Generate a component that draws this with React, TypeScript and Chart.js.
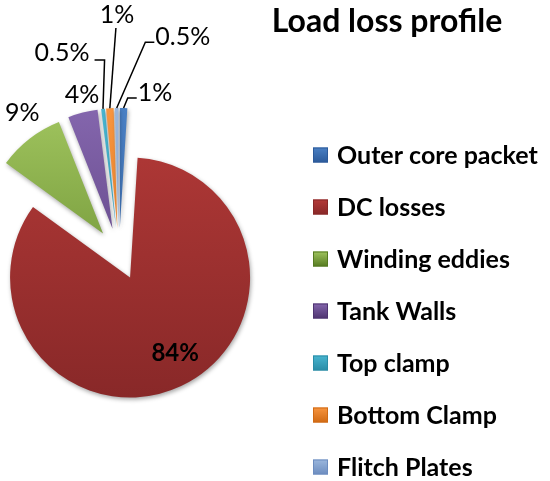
import React, { useEffect, useRef } from "react";
import { Chart, registerables } from "chart.js";

Chart.register(...registerables);

// ---- data ----
const categories = [
  "Outer core packet",
  "DC losses",
  "Winding eddies",
  "Tank Walls",
  "Top clamp",
  "Bottom Clamp",
  "Flitch Plates",
];
const lossShare = [1, 84, 9, 4, 0.5, 1, 0.5];
const chartTitle = "Load loss profile";

// ---- styles ----
const baseColors = ["#3D72B6", "#A93434", "#8CB04C", "#74559A", "#3AA5C1", "#EE8630", "#8AA8D2"];
const lightColors = ["#4A80C4", "#B43A38", "#A0C45E", "#8466AD", "#48B5D0", "#F8953F", "#9BB7DD"];
const darkColors = ["#2C5A9A", "#882828", "#557A20", "#4E3470", "#2A8CA6", "#D06A14", "#6C8CBF"];

// label placement: distance from pie centre, angle nudge from slice mid-angle (deg), leader style
const labelPlacement = [
  { dist: 165, nudge: 10.8, leader: "left" },
  { dist: 114, nudge: -4.3, leader: "none", inside: true },
  { dist: 171, nudge: 3.3, leader: "none" },
  { dist: 163, nudge: 1.3, leader: "none" },
  { dist: 209, nudge: -9.5, leader: "right" },
  { dist: 239, nudge: 3.1, leader: "below" },
  { dist: 226, nudge: 17.3, leader: "left" },
];

const FONT = "Lato, 'Liberation Sans', sans-serif";
const RADIUS = 120;
const EXPLODE = 26;

const piePlugin = {
  id: "explodedPie",
  afterDatasetUpdate(chart: any, args: any) {
    const meta = args.meta;
    meta.data.forEach((el: any) => {
      const mid = (el.startAngle + el.endAngle) / 2;
      el.x += Math.cos(mid) * EXPLODE;
      el.y += Math.sin(mid) * EXPLODE;
    });
  },
  beforeDatasetsDraw(chart: any) {
    const ctx = chart.ctx;
    ctx.save();
    ctx.shadowColor = "rgba(0,0,0,0.35)";
    ctx.shadowBlur = 4;
    ctx.shadowOffsetX = 1;
    ctx.shadowOffsetY = 2;
  },
  afterDatasetsDraw(chart: any) {
    const ctx = chart.ctx;
    ctx.restore();
    const area = chart.chartArea;
    const cx = (area.left + area.right) / 2;
    const cy = (area.top + area.bottom) / 2;
    const meta = chart.getDatasetMeta(0);
    const values = chart.data.datasets[0].data as number[];
    ctx.save();
    meta.data.forEach((el: any, i: number) => {
      const p: any = labelPlacement[i];
      const mid = (el.startAngle + el.endAngle) / 2;
      const a = mid + (p.nudge * Math.PI) / 180;
      const tx = cx + p.dist * Math.cos(a);
      const ty = cy + p.dist * Math.sin(a);
      const text = values[i] + "%";
      ctx.font = p.inside ? `bold 24px ${FONT}` : `25px ${FONT}`;
      ctx.fillStyle = "#000";
      ctx.textAlign = "center";
      ctx.textBaseline = "middle";
      ctx.fillText(text, tx, ty);
      if (p.leader !== "none") {
        const w = ctx.measureText(text).width;
        const ex = el.x + el.outerRadius * Math.cos(mid);
        const ey = el.y + el.outerRadius * Math.sin(mid);
        ctx.strokeStyle = "#000";
        ctx.lineWidth = 1.5;
        ctx.beginPath();
        ctx.moveTo(ex, ey);
        if (p.leader === "left") {
          const left = tx - w / 2;
          ctx.lineTo(left - 10, ty + 5);
          ctx.lineTo(left - 1, ty + 5);
        } else if (p.leader === "right") {
          const right = tx + w / 2;
          ctx.lineTo(right + 15, ty + 7);
          ctx.lineTo(right + 5, ty + 7);
        } else {
          ctx.lineTo(tx - 1, ty + 13);
        }
        ctx.stroke();
      }
    });
    ctx.restore();
  },
  afterDraw(chart: any) {
    const ctx = chart.ctx;
    const labels = chart.data.labels as string[];
    ctx.save();
    // title
    ctx.font = `bold 32px ${FONT}`;
    ctx.fillStyle = "#000";
    ctx.textAlign = "center";
    ctx.textBaseline = "middle";
    ctx.fillText(chartTitle, 387, 22);
    // legend
    const boxX = 313;
    const box = 15;
    ctx.font = `bold 25px ${FONT}`;
    ctx.textAlign = "left";
    labels.forEach((lab, i) => {
      const y = 155 + i * 52;
      const g = ctx.createLinearGradient(0, y - box / 2, 0, y + box / 2);
      g.addColorStop(0, lightColors[i]);
      g.addColorStop(1, darkColors[i]);
      ctx.fillStyle = g;
      ctx.fillRect(boxX, y - box / 2, box, box);
      ctx.strokeStyle = darkColors[i];
      ctx.lineWidth = 1;
      ctx.strokeRect(boxX + 0.5, y - box / 2 + 0.5, box - 1, box - 1);
      ctx.fillStyle = "#000";
      ctx.fillText(lab, 337, y + 1);
    });
    ctx.restore();
  },
};

export default function App() {
  const canvasRef = useRef<HTMLCanvasElement | null>(null);

  useEffect(() => {
    document.body.style.margin = "0";
    const canvas = canvasRef.current;
    if (!canvas) return;
    const chart = new Chart(canvas, {
      type: "pie",
      data: {
        labels: categories,
        datasets: [
          {
            data: lossShare,
            radius: RADIUS,
            borderWidth: 0,
            backgroundColor: (c: any) => {
              const i = c.dataIndex ?? 0;
              const area = c.chart.chartArea;
              if (!area) return baseColors[i];
              const cy = (area.top + area.bottom) / 2;
              const g = c.chart.ctx.createLinearGradient(0, cy - RADIUS - EXPLODE, 0, cy + RADIUS + EXPLODE);
              g.addColorStop(0, lightColors[i]);
              g.addColorStop(1, darkColors[i]);
              return g;
            },
          } as any,
        ],
      },
      options: {
        animation: false,
        responsive: true,
        maintainAspectRatio: false,
        layout: { padding: { left: 0, right: 312, top: 27, bottom: 0 } },
        plugins: {
          legend: { display: false },
          title: { display: false },
          tooltip: { enabled: false },
        },
      },
      plugins: [piePlugin],
    });
    return () => chart.destroy();
  }, []);

  return (
    <div style={{ position: "relative", width: 550, height: 481 }}>
      <canvas ref={canvasRef} />
    </div>
  );
}
